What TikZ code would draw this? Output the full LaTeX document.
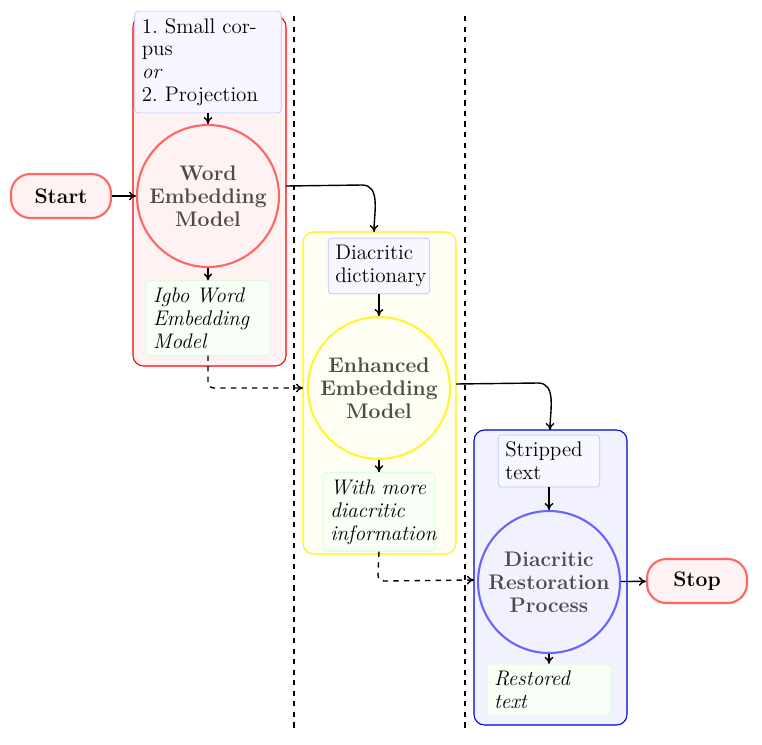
\documentclass[tikz,border=0pt]{standalone}
\usetikzlibrary{arrows.meta}
\newcommand{\myfs}{\fontsize{12}{13}\selectfont}
\begin{document}
\begin{tikzpicture}[x=0.02cm,y=-0.02cm,
 grp/.style={draw=#1,rounded corners=6pt,line width=0.6pt},
 circ/.style={circle,draw=#1,line width=1.2pt,minimum size=2.84cm,inner sep=0pt,align=center,font=\myfs\bfseries,text=black!70},
 info/.style={draw=blue!25,fill=blue!3,rounded corners=2pt,align=left,inner sep=4pt,font=\myfs},
 outb/.style={draw=green!20,fill=green!3,rounded corners=2pt,align=left,inner sep=4pt,font=\myfs\itshape},
 term/.style={draw=red!60,fill=red!5,rounded corners=11pt,line width=1.2pt,minimum width=2.0cm,minimum height=0.88cm,font=\myfs\bfseries},
 arr/.style={-{To[length=4pt,width=5pt]},line width=0.8pt}]
\useasboundingbox (0,0) rectangle (762,745);
\draw[grp=red,fill=red!5] (133,16) rectangle (286,366);
\draw[grp=yellow,fill=yellow!5] (303,232) rectangle (456,554);
\draw[grp=blue!80!black,fill=blue!5] (474,430) rectangle (627,725);
\draw[dashed,line width=0.6pt] (294,16) -- (294,732);
\draw[dashed,line width=0.6pt] (465,16) -- (465,732);
\node[term] (start) at (61,196) {Start};
\node[term] (stop) at (697,581) {Stop};
\node[circ=red!60,fill=red!5] (c1) at (208,196) {Word\\Embedding\\Model};
\node[circ=yellow!80,fill=yellow!5] (c2) at (379,388) {Enhanced\\Embedding\\Model};
\node[circ=blue!60,fill=blue!5] (c3) at (549,582) {Diacritic\\Restoration\\Process};
\node[info,text width=2.65cm] (i1) at (208,62) {1.\ Small corpus\\\textit{or}\\2.\ Projection};
\node[info,text width=1.75cm] (i2) at (379,266) {Diacritic\\dictionary};
\node[info,text width=1.75cm] (i3) at (549,461) {Stripped\\text};
\node[outb,text width=2.2cm] (o1) at (208,318) {Igbo Word\\Embedding\\Model};
\node[outb,text width=1.95cm] (o2) at (379,512) {With more\\diacritic\\information};
\node[outb,text width=2.2cm,minimum height=0.88cm] (o3) at (549,690) {Restored text};
\coordinate (y1) at (374,232);
\coordinate (b1) at (550,430);
\coordinate (y2) at (303,388);
\coordinate (b2) at (474,580);
\draw[arr] (start) -- (c1);
\draw[arr] (c3) -- (stop);
\draw[arr] (i1) -- (c1);
\draw[arr] (c1) -- (o1);
\draw[arr] (i2) -- (c2);
\draw[arr] (c2) -- (o2);
\draw[arr] (i3) -- (c3);
\draw[arr] (c3) -- (o3);
\draw[arr] (286,186) -- (362,185) to[out=0,in=90] (y1);
\draw[arr] (456,384) -- (538,383) to[out=0,in=90] (b1);
\draw[arr,dashed] (o1.south) -- (208,382) to[out=-90,in=180] (214,388) -- (y2);
\draw[arr,dashed] (o2.south) -- (378,575) to[out=-90,in=180] (384,581) -- (b2);
\end{tikzpicture}
\end{document}
